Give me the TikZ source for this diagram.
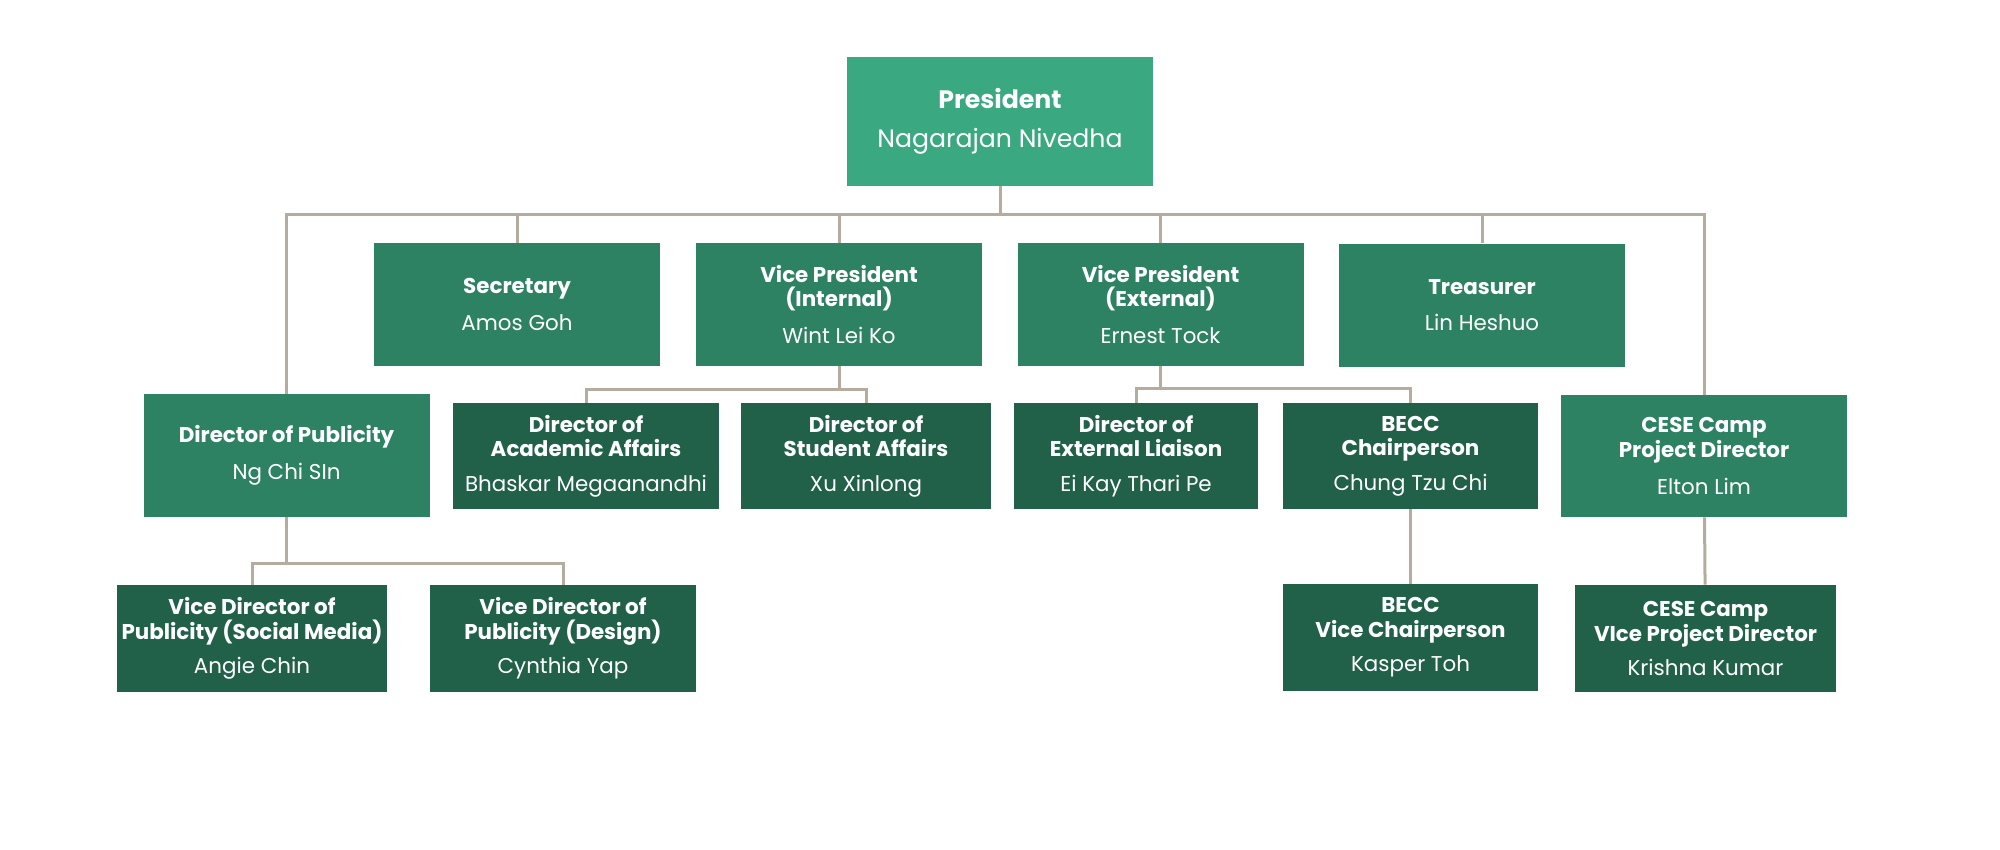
\documentclass[tikz,border=0pt]{standalone}
\usepackage{fontspec}
\setmainfont{Poppins}
\definecolor{topgreen}{HTML}{3AA880}
\definecolor{midgreen}{HTML}{2E8264}
\definecolor{lowgreen}{HTML}{21614A}
\definecolor{linkgray}{HTML}{B5AC9F}

\begin{document}
\begin{tikzpicture}[x=0.5pt, y=-0.5pt,
	role/.style={fill=#1, text=white, align=center, inner sep=0pt, font=\fontsize{10.7}{12.3}\selectfont},
	link/.style={draw=linkgray, line width=1.5pt}]
	\useasboundingbox (0,0) rectangle (2000,850);
	% president
	\node[role=topgreen, minimum width=153pt, minimum height=64.5pt, font=\fontsize{12.6}{14.5}\selectfont] (pres) at (1000,121.5) {\textbf{President}\\[5pt]Nagarajan Nivedha};
	% second row
	\node[role=midgreen, minimum width=143pt, minimum height=61.5pt] (sec) at (517,304.5) {\textbf{Secretary}\\[6pt]Amos Goh};
	\node[role=midgreen, minimum width=143pt, minimum height=61.5pt] (vpi) at (839,304.5) {\textbf{Vice President}\\\textbf{(Internal)}\\[6pt]Wint Lei Ko};
	\node[role=midgreen, minimum width=143pt, minimum height=61.5pt] (vpe) at (1160.5,304.5) {\textbf{Vice President}\\\textbf{(External)}\\[6pt]Ernest Tock};
	\node[role=midgreen, minimum width=143pt, minimum height=61.5pt] (tre) at (1482,305) {\textbf{Treasurer}\\[6pt]Lin Heshuo};
	\node[role=midgreen, minimum width=143pt, minimum height=61.5pt] (dop) at (286.5,455.5) {\textbf{Director of Publicity}\\[6pt]Ng Chi SIn};
	\node[role=midgreen, minimum width=143pt, minimum height=61pt] (cese) at (1704,456) {\textbf{CESE Camp}\\\textbf{Project Director}\\[6pt]Elton Lim};
	% third row
	\node[role=lowgreen, minimum width=133pt, minimum height=53pt] (acad) at (586,456) {\textbf{Director of}\\\textbf{Academic Affairs}\\[5pt]Bhaskar Megaanandhi};
	\node[role=lowgreen, minimum width=125pt, minimum height=53pt] (stud) at (866,456) {\textbf{Director of}\\\textbf{Student Affairs}\\[5pt]Xu Xinlong};
	\node[role=lowgreen, minimum width=122pt, minimum height=53pt] (liai) at (1136,456) {\textbf{Director of}\\\textbf{External Liaison}\\[5pt]Ei Kay Thari Pe};
	\node[role=lowgreen, minimum width=127.5pt, minimum height=53pt] (becc) at (1410.5,456) {\textbf{BECC}\\\textbf{Chairperson}\\[5pt]Chung Tzu Chi};
	% fourth row
	\node[role=lowgreen, minimum width=135pt, minimum height=53.5pt] (vds) at (252,638.5) {\textbf{Vice Director of}\\\textbf{Publicity (Social Media)}\\[5pt]Angie Chin};
	\node[role=lowgreen, minimum width=133pt, minimum height=53.5pt] (vdd) at (563,638.5) {\textbf{Vice Director of}\\\textbf{Publicity (Design)}\\[5pt]Cynthia Yap};
	\node[role=lowgreen, minimum width=127.5pt, minimum height=53.5pt] (beccv) at (1410.5,637.5) {\textbf{BECC}\\\textbf{Vice Chairperson}\\[5pt]Kasper Toh};
	\node[role=lowgreen, minimum width=130.5pt, minimum height=53.5pt] (cesev) at (1705.5,638.5) {\textbf{CESE Camp}\\\textbf{VIce Project Director}\\[5pt]Krishna Kumar};
	% connectors
	\coordinate (bus) at (1000,215);
	\coordinate (ibus) at (839,389);
	\coordinate (ebus) at (1160.5,388);
	\coordinate (pbus) at (286.5,563);
	\draw[link] (pres) -- (bus);
	\draw[link] (dop.north) |- (bus) -| (cese.north);
	\foreach \n in {sec,vpi,vpe,tre} \draw[link] (\n.north) -- (\n.north |- bus);
	\draw[link] (acad.north) |- (ibus) -| (stud.north);
	\draw[link] (vpi) -- (ibus);
	\draw[link] (liai.north) |- (ebus) -| (becc.north);
	\draw[link] (vpe) -- (ebus);
	\draw[link] (vds.north) |- (pbus) -| (vdd.north);
	\draw[link] (dop) -- (pbus);
	\draw[link] (becc) -- (beccv);
	\draw[link] (cese) -- (cesev);
\end{tikzpicture}
\end{document}
